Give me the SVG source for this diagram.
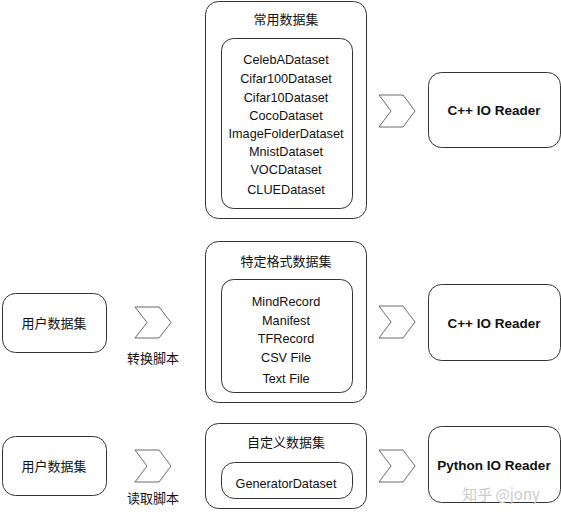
<svg xmlns="http://www.w3.org/2000/svg" width="561" height="519" viewBox="0 0 561 519">
<style>
.box{fill:#fff;stroke:#333;stroke-width:1}
.chev{fill:#fff;stroke:#444;stroke-width:0.8}
.t{font-family:"Liberation Sans","Noto Sans CJK SC",sans-serif;font-size:12.7px;fill:#111;text-anchor:middle}
.c{font-family:"Noto Sans CJK SC","Liberation Sans",sans-serif;font-size:13px;fill:#111;text-anchor:middle}
.b{font-family:"Liberation Sans",sans-serif;font-size:13.5px;font-weight:bold;fill:#111;text-anchor:middle}
.wm{font-family:"Noto Sans CJK SC","Liberation Sans",sans-serif;font-size:15px;fill:#ccc;text-anchor:middle}
</style>
<rect width="561" height="519" fill="#fff"/>
<g id="common">
<rect class="box" x="205.5" y="1.5" width="161" height="217" rx="13"/>
<text class="c" x="286" y="24">常用数据集</text>
<rect class="box" x="221.5" y="38.5" width="131" height="170" rx="12"/>
<text class="t" x="286" y="64">CelebADataset</text>
<text class="t" x="286" y="83">Cifar100Dataset</text>
<text class="t" x="286" y="102">Cifar10Dataset</text>
<text class="t" x="286" y="120">CocoDataset</text>
<text class="t" x="286" y="138">ImageFolderDataset</text>
<text class="t" x="286" y="156">MnistDataset</text>
<text class="t" x="286" y="174">VOCDataset</text>
<text class="t" x="286" y="194">CLUEDataset</text>
</g>
<g id="cpp1">
<rect class="box" x="428.5" y="72.5" width="132" height="75" rx="13"/>
<text class="b" x="494" y="115">C++ IO Reader</text>
</g>
<g id="user1">
<rect class="box" x="2.5" y="293.5" width="104" height="59" rx="13"/>
<text class="c" x="54" y="328">用户数据集</text>
</g>
<g id="special">
<rect class="box" x="205.5" y="241.5" width="161" height="161" rx="13"/>
<text class="c" x="286" y="266">特定格式数据集</text>
<rect class="box" x="221.5" y="279.5" width="131" height="113" rx="12"/>
<text class="t" x="286" y="306">MindRecord</text>
<text class="t" x="286" y="325">Manifest</text>
<text class="t" x="286" y="343">TFRecord</text>
<text class="t" x="286" y="362">CSV File</text>
<text class="t" x="286" y="383">Text File</text>
</g>
<g id="cpp2">
<rect class="box" x="428.5" y="284.5" width="132" height="76" rx="13"/>
<text class="b" x="494" y="328">C++ IO Reader</text>
</g>
<g id="user2">
<rect class="box" x="2.5" y="436.5" width="104" height="59" rx="13"/>
<text class="c" x="54" y="471">用户数据集</text>
</g>
<g id="custom">
<rect class="box" x="205.5" y="423.5" width="161" height="85" rx="13"/>
<text class="c" x="286" y="447">自定义数据集</text>
<rect class="box" x="221.5" y="462.5" width="131" height="36" rx="13"/>
<text class="t" x="286" y="488">GeneratorDataset</text>
</g>
<g id="py">
<rect class="box" x="428.5" y="426.5" width="132" height="76" rx="13"/>
<text class="b" x="494" y="470">Python IO Reader</text>
<text class="wm" x="501" y="500">知乎 @jony</text>
</g>
<g id="connectors">
<polygon class="chev" points="379,95 403,95 415,111 403,127 379,127 391,111"/>
<polygon class="chev" points="135,307 159,307 171,322.5 159,338 135,338 147,322.5"/>
<text class="c" x="153" y="363">转换脚本</text>
<polygon class="chev" points="379,306 403,306 415,322 403,338 379,338 391,322"/>
<polygon class="chev" points="135,450 159,450 171,466 159,482 135,482 147,466"/>
<text class="c" x="153" y="503">读取脚本</text>
<polygon class="chev" points="379,450 403,450 415,466 403,482 379,482 391,466"/>
</g>
</svg>
